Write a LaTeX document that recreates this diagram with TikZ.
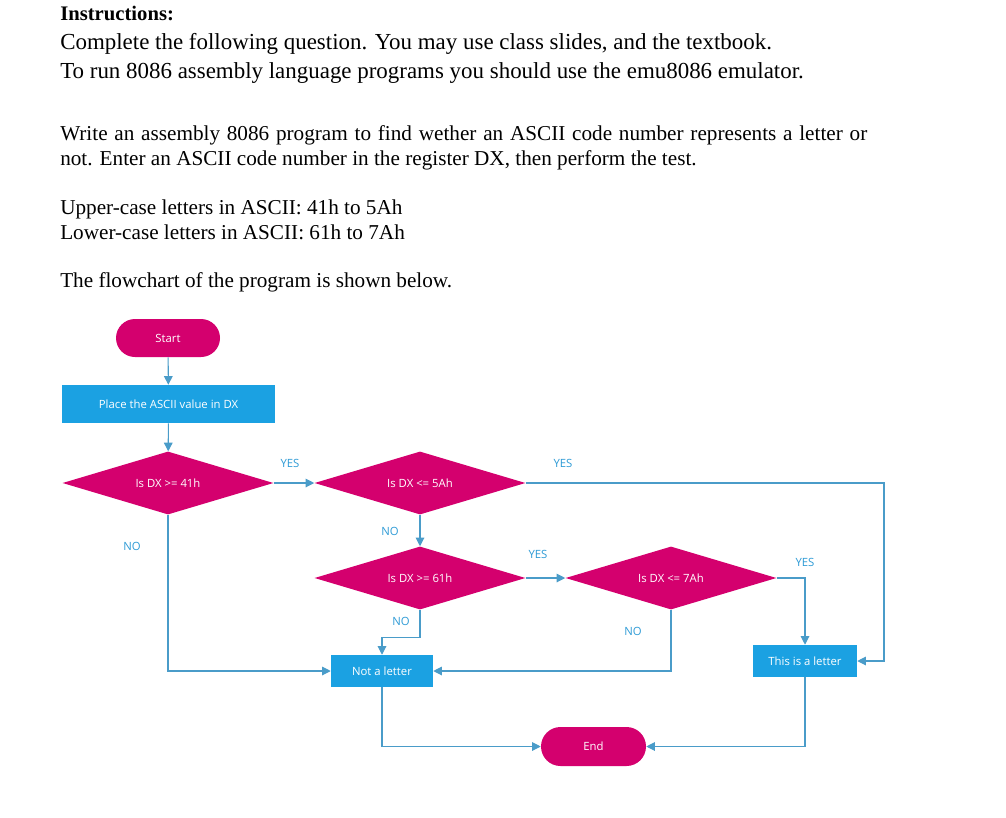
\documentclass[tikz,border=0pt]{standalone}
\usepackage{fontspec}
\setmainfont{Liberation Serif}
\newfontfamily\flowfont{Open Sans}
\usetikzlibrary{shapes.geometric,shapes.misc,arrows.meta}
\definecolor{mag}{HTML}{D4006E}
\definecolor{boxblue}{HTML}{1BA1E2}
\definecolor{linecol}{HTML}{4A9CC9}
\definecolor{labcol}{HTML}{2E9BD6}
\tikzset{
  body/.style={anchor=base west, inner sep=0pt, font=\fontsize{15.9pt}{18pt}\selectfont},
  bigbody/.style={anchor=base west, inner sep=0pt, font=\fontsize{17.2pt}{20pt}\selectfont},
  pill/.style={rounded rectangle, fill=mag, text=white, minimum width=104*0.75pt, minimum height=38*0.75pt, inner sep=0pt, font=\flowfont\fontsize{8.5pt}{10pt}\selectfont},
  procbox/.style={rectangle, fill=boxblue, text=white, inner sep=0pt, font=\flowfont\fontsize{8.5pt}{10pt}\selectfont},
  decision/.style={diamond, fill=mag, text=white, inner sep=0pt, shape aspect=3.33, minimum width=211*0.75pt, minimum height=63*0.75pt, font=\flowfont\fontsize{8.5pt}{10pt}\selectfont},
  conn/.style={draw=linecol, line width=0.8pt, -{Triangle[length=6.5pt,width=6.5pt]}},
  lab/.style={text=labcol, inner sep=0pt, font=\flowfont\fontsize{8.5pt}{10pt}\selectfont}
}
\begin{document}
\begin{tikzpicture}[x=0.75pt,y=-0.75pt]
\useasboundingbox[fill=white] (0,0) rectangle (1006,817);
% text
\node[body, font=\bfseries\fontsize{15.5pt}{18pt}\selectfont] (t0) at (60,21) {Instructions:};
\node[bigbody] (t1) at (60,50) {Complete the following question. You may use class slides, and the textbook.};
\node[bigbody] (t2) at (60,79) {To run 8086 assembly language programs you should use the emu8086 emulator.};
\node[body] (t3) at (60,140) {\makebox[605.25pt][s]{Write an assembly 8086 program to find wether an ASCII code number represents a letter or}};
\node[body] (t4) at (60,165) {not. Enter an ASCII code number in the register DX, then perform the test.};
\node[body] (t5) at (60,214) {Upper-case letters in ASCII: 41h to 5Ah};
\node[body] (t6) at (60,239) {Lower-case letters in ASCII: 61h to 7Ah};
\node[body] (t7) at (60,287) {The flowchart of the program is shown below.};
% shapes
\node[pill] (start) at (168,338) {Start};
\node[procbox, minimum width=213*0.75pt, minimum height=38*0.75pt] (place) at (168.5,404) {Place the ASCII value in DX};
\node[decision] (d1) at (168,483) {Is DX >= 41h};
\node[decision] (d2) at (420,483) {Is DX <= 5Ah};
\node[decision] (d3) at (420,578) {Is DX >= 61h};
\node[decision] (d4) at (671,578) {Is DX <= 7Ah};
\node[procbox, minimum width=102*0.75pt, minimum height=32*0.75pt] (nal) at (382,671) {Not a letter};
\node[procbox, minimum width=104*0.75pt, minimum height=32*0.75pt] (tial) at (805,661) {This is a letter};
\node[pill, minimum width=105*0.75pt, minimum height=39*0.75pt] (end) at (593.5,746.5) {End};
\coordinate (c1) at (884,483);
% connectors
\draw[conn] (start) -- (place);
\draw[conn] (place) -- (d1);
\draw[conn] (d1.east) -- (d2.west);
\draw[conn] (d2.east) -- (c1) |- (tial.east);
\draw[conn] (d2.south) -- (d3.north);
\draw[conn] (d1.south) |- (nal.west);
\draw[conn] (d3.east) -- (d4.west);
\draw[conn] (d3.south) -- ++(0,28) -| (nal.north);
\draw[conn] (d4.south) |- (nal.east);
\draw[conn] (d4.east) -| (tial.north);
\draw[conn] (nal.south) |- (end.west);
\draw[conn] (tial.south) |- (end.east);
% labels
\node[lab] (l1) at (290,463) {YES};
\node[lab] (l2) at (563,463) {YES};
\node[lab] (l3) at (390,531) {NO};
\node[lab] (l4) at (132,546) {NO};
\node[lab] (l5) at (538,554) {YES};
\node[lab] (l6) at (401,621) {NO};
\node[lab] (l7) at (633,631) {NO};
\node[lab] (l8) at (805,562) {YES};
\end{tikzpicture}
\end{document}
